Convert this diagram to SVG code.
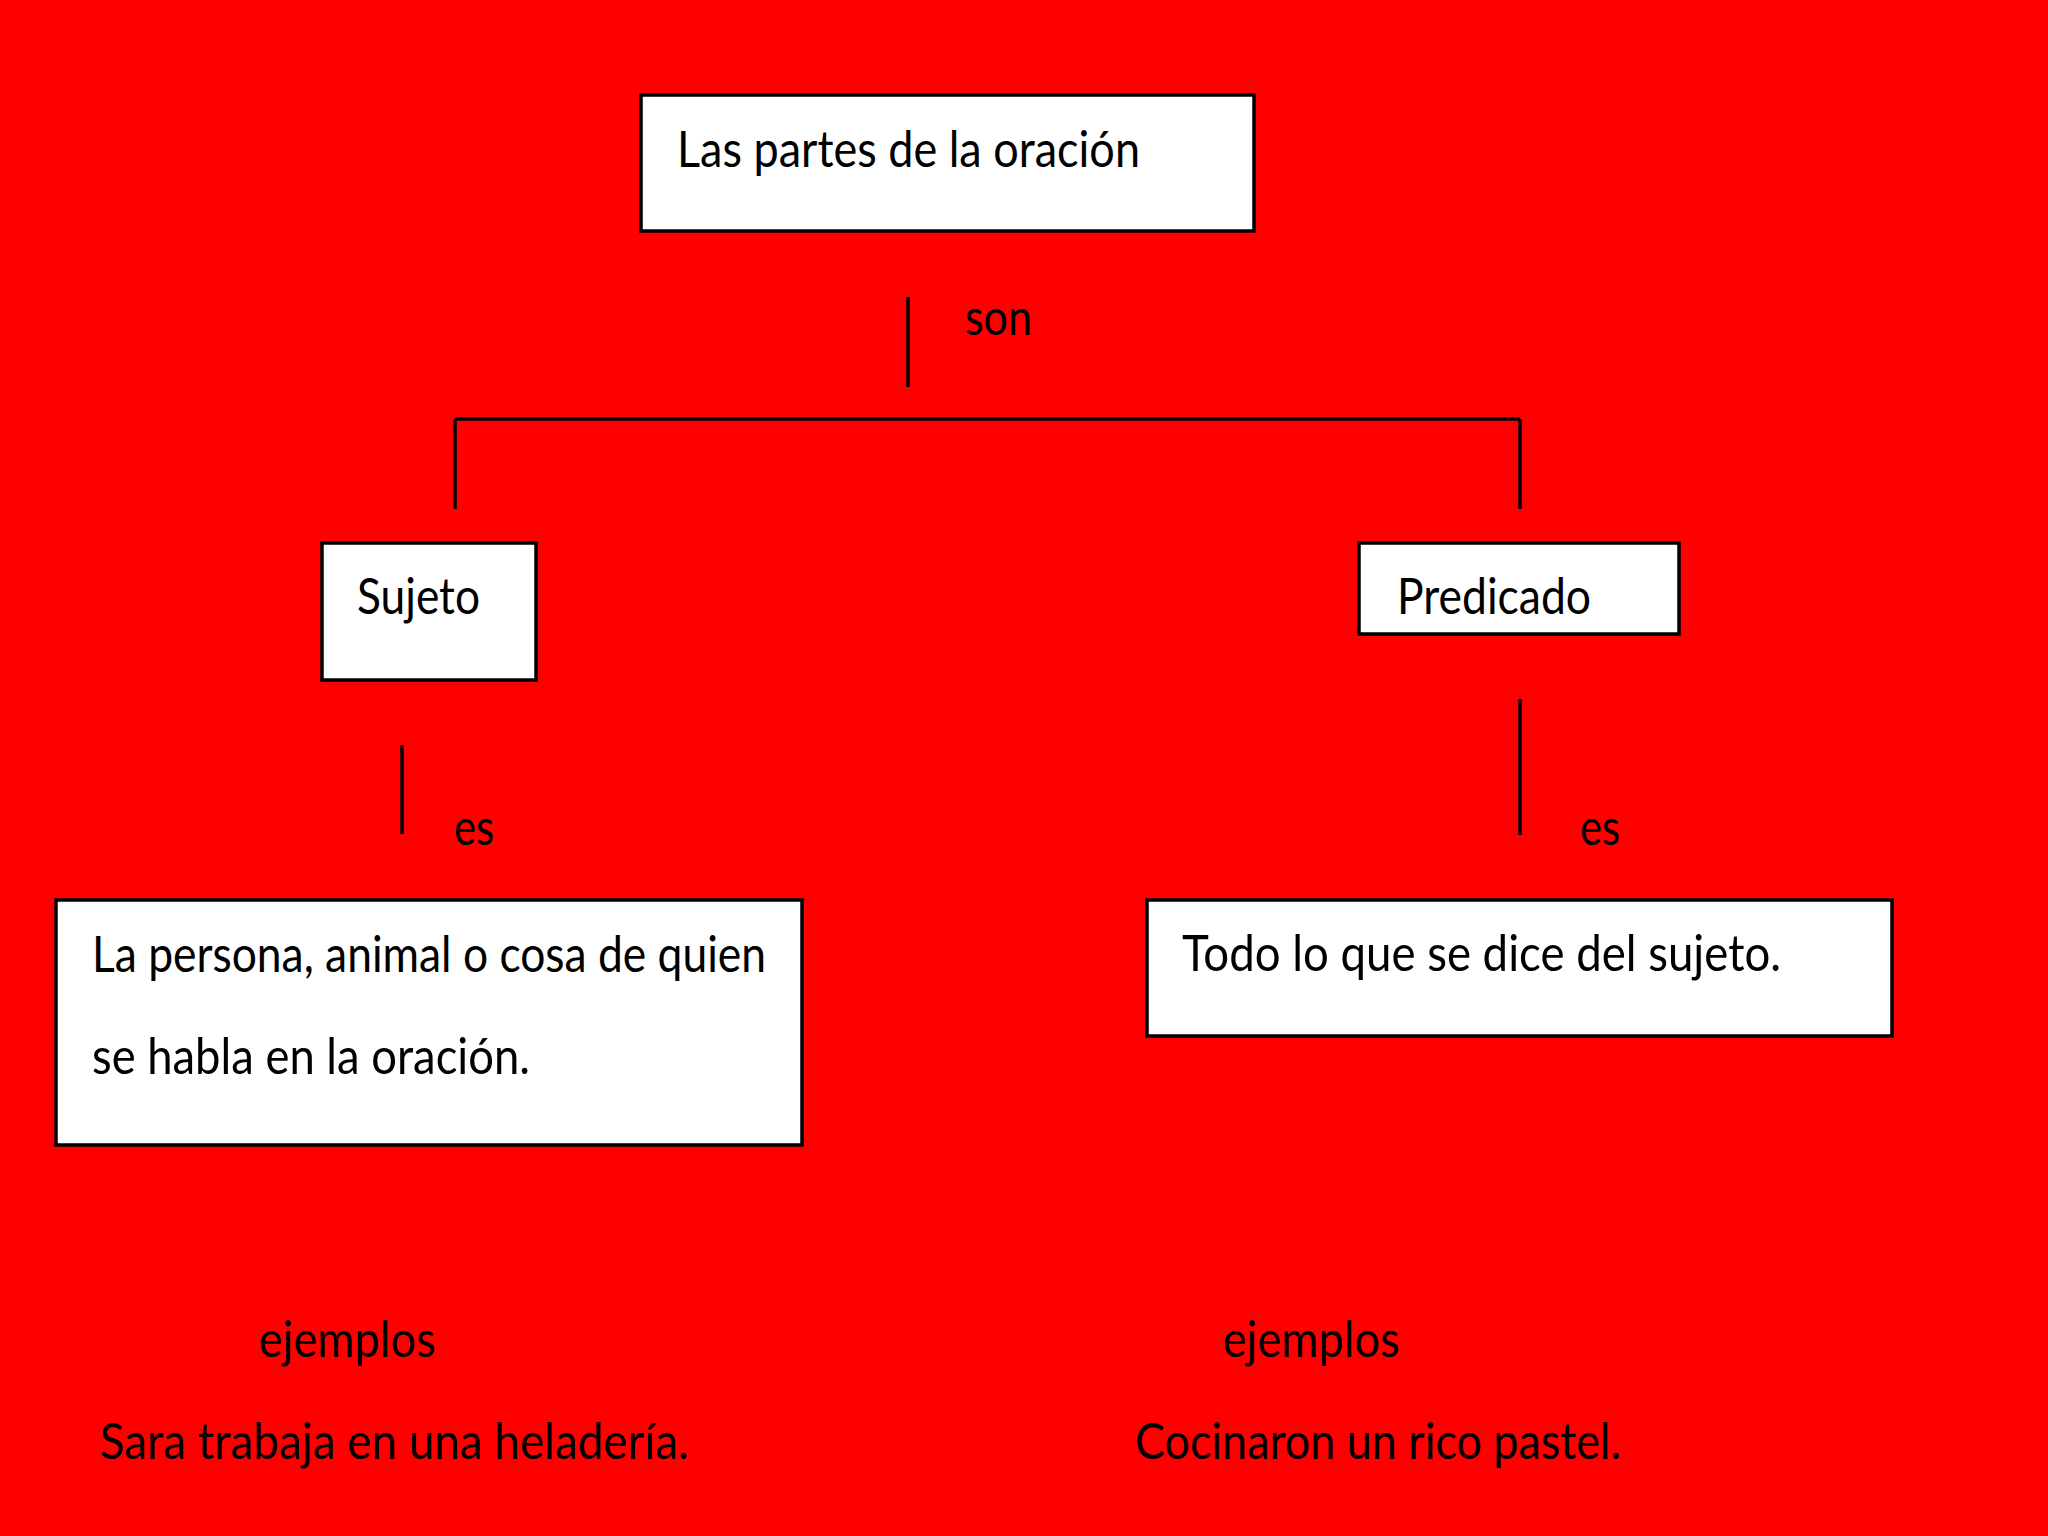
<svg xmlns="http://www.w3.org/2000/svg" width="2048" height="1536" viewBox="0 0 2048 1536">
<style>
.box{fill:#fff;stroke:#000;stroke-width:3.5}
.ln{stroke:#000;stroke-width:3.5;fill:none}
text{font-family:Lato,"Open Sans","Liberation Sans",sans-serif;font-size:51px;fill:#000}
</style>
<rect width="2048" height="1536" fill="#ff0000"/>
<g id="connectors">
<line class="ln" x1="908" y1="297" x2="908" y2="387"/>
<line class="ln" x1="455" y1="419" x2="1520" y2="419"/>
<line class="ln" x1="455" y1="419" x2="455" y2="509"/>
<line class="ln" x1="1520" y1="419" x2="1520" y2="509"/>
<line class="ln" x1="402" y1="745" x2="402" y2="834"/>
<line class="ln" x1="1520" y1="699" x2="1520" y2="835"/>
<text x="965" y="335" textLength="67" lengthAdjust="spacingAndGlyphs">son</text>
<text x="454" y="845" textLength="40" lengthAdjust="spacingAndGlyphs">es</text>
<text x="1580" y="845" textLength="40" lengthAdjust="spacingAndGlyphs">es</text>
</g>
<g id="titulo">
<rect class="box" x="641" y="95" width="613" height="136"/>
<text x="677" y="167" textLength="463" lengthAdjust="spacingAndGlyphs">Las partes de la oración</text>
</g>
<g id="sujeto">
<rect class="box" x="322" y="543" width="214" height="137"/>
<text x="357" y="614" textLength="123" lengthAdjust="spacingAndGlyphs">Sujeto</text>
</g>
<g id="predicado">
<rect class="box" x="1359" y="543" width="320" height="91"/>
<text x="1397" y="614" textLength="194" lengthAdjust="spacingAndGlyphs">Predicado</text>
</g>
<g id="def-sujeto">
<rect class="box" x="56" y="900" width="746" height="245"/>
<text x="92" y="972" textLength="674" lengthAdjust="spacingAndGlyphs">La persona, animal o cosa de quien</text>
<text x="92" y="1074" textLength="438" lengthAdjust="spacingAndGlyphs">se habla en la oración.</text>
</g>
<g id="def-predicado">
<rect class="box" x="1147" y="900" width="745" height="136"/>
<text x="1182" y="971" textLength="599" lengthAdjust="spacingAndGlyphs">Todo lo que se dice del sujeto.</text>
</g>
<g id="ejemplos-sujeto">
<text x="259" y="1357" textLength="177" lengthAdjust="spacingAndGlyphs">ejemplos</text>
<text x="100" y="1459" textLength="589" lengthAdjust="spacingAndGlyphs">Sara trabaja en una heladería.</text>
</g>
<g id="ejemplos-predicado">
<text x="1223" y="1357" textLength="177" lengthAdjust="spacingAndGlyphs">ejemplos</text>
<text x="1135" y="1459" textLength="486" lengthAdjust="spacingAndGlyphs">Cocinaron un rico pastel.</text>
</g>
</svg>
